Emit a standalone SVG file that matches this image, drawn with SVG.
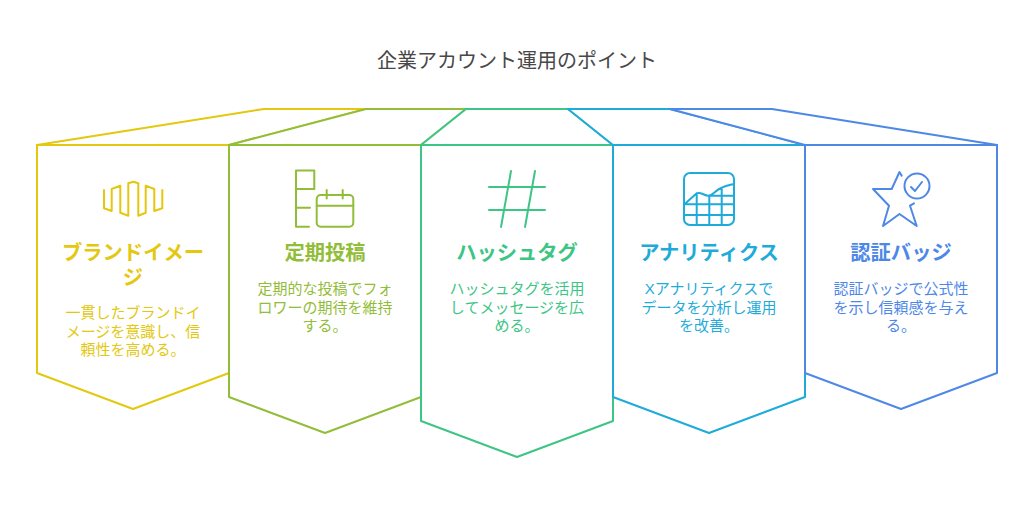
<svg xmlns="http://www.w3.org/2000/svg" width="1034" height="518" viewBox="0 0 1034 518">
<style>
text{font-family:"Liberation Sans","Noto Sans CJK JP",sans-serif;text-anchor:middle}
.t{font-size:20px;fill:#484848}
.h{font-size:20.3px;font-weight:700}
.b{font-size:15px}
.s{fill:#fff;stroke-width:2;stroke-linejoin:round}
.i{fill:none;stroke-width:2;stroke-linecap:round;stroke-linejoin:round}
.y{stroke:#e3c80f}.yt{fill:#e3c80f}
.g{stroke:#92bd39}.gt{fill:#92bd39}
.m{stroke:#3dc585}.mt{fill:#3dc585}
.c{stroke:#1eabda}.ct{fill:#1eabda}
.p{stroke:#4e88e7}.pt{fill:#4e88e7}
</style>
<rect width="1034" height="518" fill="#fff"/>
<text class="t" x="517" y="67.5">企業アカウント運用のポイント</text>
<g id="node-brand">
<path class="s y" d="M37 145L264 109H366L229 145Z"/>
<path class="s y" d="M37 145H229V373L133 409L37 373Z"/>
<path class="i y" d="M104 190V208.3L111.7 211V189L120.3 185.7V212.7L128.3 215.7V183.3L133.3 181.7L138.3 183.3V215.7L145.7 212.7V185.7L154.3 189V211L162.3 208.3V190"/>
<text class="h yt" x="133" y="259.5">ブランドイメー<tspan x="133" dy="25">ジ</tspan></text>
<text class="b yt" x="133" y="318">一貫したブランドイ<tspan x="133" dy="18.5">メージを意識し、信</tspan><tspan x="133" dy="18.5">頼性を高める。</tspan></text>
</g>
<g id="node-post">
<path class="s g" d="M229 145L366 109H466L421 145Z"/>
<path class="s g" d="M229 145H421V397L325 433L229 397Z"/>
<path class="i g" d="M309 226.7H296V170.5H314.3V189H296M296 207.7H310"/>
<rect class="i g" x="316.7" y="195" width="36.6" height="31.7" rx="4"/>
<path class="i g" d="M316.7 205.7H353.3M326.7 190V198.5M342.7 190V198.5"/>
<text class="h gt" x="325" y="259.5">定期投稿</text>
<text class="b gt" x="325" y="294">定期的な投稿でフォ<tspan x="325" dy="18.5">ロワーの期待を維持</tspan><tspan x="325" dy="18.5">する。</tspan></text>
</g>
<g id="node-hash">
<path class="s m" d="M421 145L466 109H568L613 145Z"/>
<path class="s m" d="M421 145H613V421L517 457L421 421Z"/>
<path class="i m" d="M489 187H545M489 210H545M511 171L501 227M535 171L525 227"/>
<text class="h mt" x="517" y="259.5">ハッシュタグ</text>
<text class="b mt" x="517" y="294">ハッシュタグを活用<tspan x="517" dy="18.5">してメッセージを広</tspan><tspan x="517" dy="18.5">める。</tspan></text>
</g>
<g id="node-analytics">
<path class="s c" d="M613 145L568 109H670L805 145Z"/>
<path class="s c" d="M613 145H805V397L709 433L613 397Z"/>
<rect class="i c" x="684" y="173" width="50" height="52" rx="6"/>
<path class="i c" d="M684.5 204.3L696.7 193.3C701 191.5 704 195.7 708.3 195.7C713 195.7 715 190 721.7 187.7C726 185.7 730 185 734 184M684 204.3H734M684 215H734M708.3 195.7H734M696.7 193.3V225M709.3 195.7V225M721.7 187.7V225"/>
<text class="h ct" x="709" y="259.5">アナリティクス</text>
<text class="b ct" x="709" y="294">Xアナリティクスで<tspan x="709" dy="18.5">データを分析し運用</tspan><tspan x="709" dy="18.5">を改善。</tspan></text>
</g>
<g id="node-badge">
<path class="s p" d="M805 145L670 109H772L997 145Z"/>
<path class="s p" d="M805 145H997V373L901 409L805 373Z"/>
<path class="i p" d="M901.7 175.7L899.5 172L891.7 189H873L889 205.7L883 226L899.5 214L916.7 226L910 205.7L914 203.3"/>
<circle class="i p" cx="917" cy="186" r="12.5"/>
<path class="i p" d="M911 187L915 191L922 182"/>
<text class="h pt" x="901" y="259.5">認証バッジ</text>
<text class="b pt" x="901" y="294">認証バッジで公式性<tspan x="901" dy="18.5">を示し信頼感を与え</tspan><tspan x="901" dy="18.5">る。</tspan></text>
</g>
</svg>
